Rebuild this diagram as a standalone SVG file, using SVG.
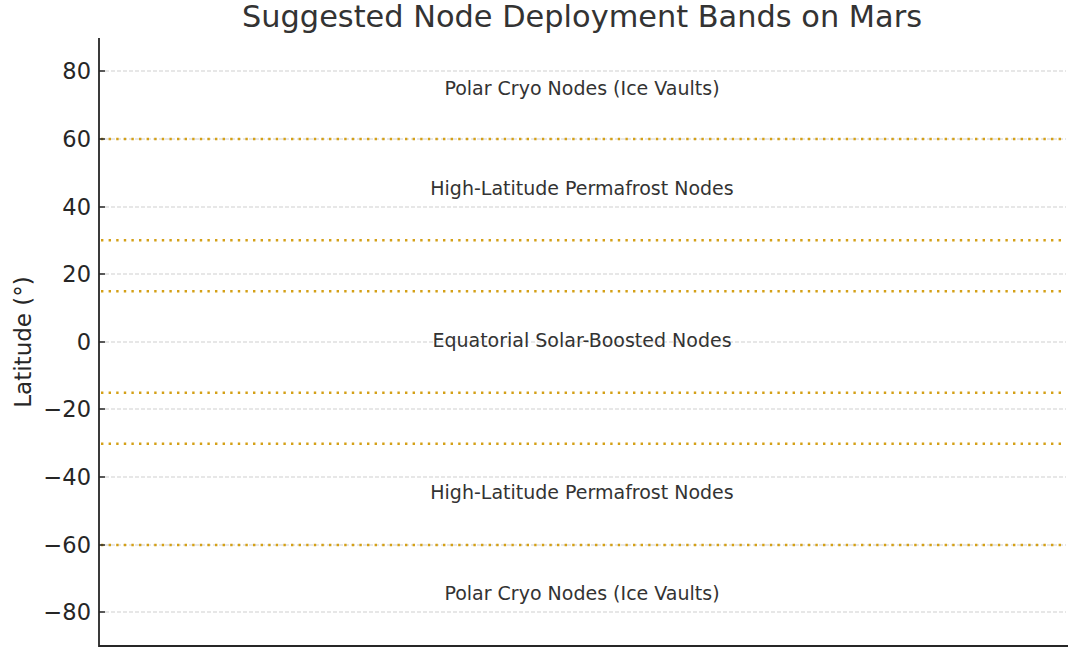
<svg xmlns="http://www.w3.org/2000/svg" width="1080" height="655" viewBox="0 0 1080 655">
<style>
.grid{stroke:#cfcfcf;stroke-width:1;stroke-dasharray:4 2;fill:none}
.band{stroke:#d4a017;stroke-width:2.6;stroke-dasharray:2.4 5.2;fill:none}
.tick{font-family:"DejaVu Sans",sans-serif;font-size:22.5px;fill:#262626;text-anchor:end}
.lbl{font-family:"DejaVu Sans",sans-serif;font-size:19px;fill:#333;text-anchor:middle}
.axis{stroke:#262626;stroke-width:1.8;fill:none}
</style>
<rect width="1080" height="655" fill="#fff"/>
<text x="582" y="27" font-family="DejaVu Sans, sans-serif" font-size="30.4" fill="#333" text-anchor="middle">Suggested Node Deployment Bands on Mars</text>
<g id="gridlines">
<line class="grid" x1="99" y1="71" x2="1066" y2="71"/>
<line class="grid" x1="99" y1="139" x2="1066" y2="139"/>
<line class="grid" x1="99" y1="207" x2="1066" y2="207"/>
<line class="grid" x1="99" y1="274" x2="1066" y2="274"/>
<line class="grid" x1="99" y1="342" x2="1066" y2="342"/>
<line class="grid" x1="99" y1="409" x2="1066" y2="409"/>
<line class="grid" x1="99" y1="477" x2="1066" y2="477"/>
<line class="grid" x1="99" y1="545" x2="1066" y2="545"/>
<line class="grid" x1="99" y1="612" x2="1066" y2="612"/>
</g>
<g id="bands">
<line class="band" x1="101" y1="139" x2="1066" y2="139"/>
<line class="band" x1="101" y1="240.3" x2="1066" y2="240.3"/>
<line class="band" x1="101" y1="291.2" x2="1066" y2="291.2"/>
<line class="band" x1="101" y1="392.8" x2="1066" y2="392.8"/>
<line class="band" x1="101" y1="443.7" x2="1066" y2="443.7"/>
<line class="band" x1="101" y1="545" x2="1066" y2="545"/>
</g>
<g id="axes">
<path class="axis" d="M99,38 V646 H1068"/>
<g stroke="#262626" stroke-width="1.5">
<line x1="99" y1="71" x2="105" y2="71"/>
<line x1="99" y1="139" x2="105" y2="139"/>
<line x1="99" y1="207" x2="105" y2="207"/>
<line x1="99" y1="274" x2="105" y2="274"/>
<line x1="99" y1="342" x2="105" y2="342"/>
<line x1="99" y1="409" x2="105" y2="409"/>
<line x1="99" y1="477" x2="105" y2="477"/>
<line x1="99" y1="545" x2="105" y2="545"/>
<line x1="99" y1="612" x2="105" y2="612"/>
</g>
<text class="tick" x="91" y="79">80</text>
<text class="tick" x="91" y="147">60</text>
<text class="tick" x="91" y="215">40</text>
<text class="tick" x="91" y="282">20</text>
<text class="tick" x="91" y="350">0</text>
<text class="tick" x="91" y="417">−20</text>
<text class="tick" x="91" y="485">−40</text>
<text class="tick" x="91" y="553">−60</text>
<text class="tick" x="91" y="620">−80</text>
<text transform="translate(31,342) rotate(-90)" font-family="DejaVu Sans, sans-serif" font-size="23" fill="#262626" text-anchor="middle">Latitude (°)</text>
</g>
<g id="labels">
<text class="lbl" x="582" y="94.5">Polar Cryo Nodes (Ice Vaults)</text>
<text class="lbl" x="582" y="194.5">High-Latitude Permafrost Nodes</text>
<text class="lbl" x="582" y="346.5">Equatorial Solar-Boosted Nodes</text>
<text class="lbl" x="582" y="498.5">High-Latitude Permafrost Nodes</text>
<text class="lbl" x="582" y="599.5">Polar Cryo Nodes (Ice Vaults)</text>
</g>
</svg>
